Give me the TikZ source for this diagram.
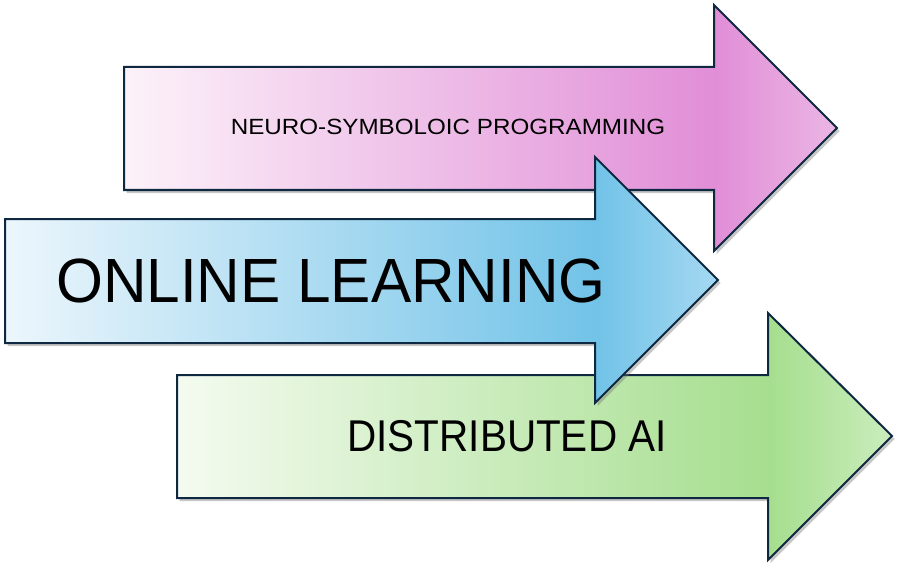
\documentclass[tikz,border=0pt]{standalone}
\usepackage{fontspec}
\setmainfont{Liberation Sans}
\usepackage{graphicx}
\usetikzlibrary{shadows}
\definecolor{edge}{RGB}{14,40,65}
\definecolor{pinkL}{RGB}{252,242,249}
\definecolor{pinkM}{RGB}{225,142,215}
\definecolor{pinkT}{RGB}{235,182,228}
\definecolor{blueL}{RGB}{236,246,252}
\definecolor{blueM}{RGB}{114,195,232}
\definecolor{blueT}{RGB}{165,216,241}
\definecolor{greenL}{RGB}{244,251,240}
\definecolor{greenM}{RGB}{166,222,143}
\definecolor{greenT}{RGB}{202,237,188}
\pgfdeclarehorizontalshading{pinkshade}{100bp}{color(0bp)=(pinkL); color(25bp)=(pinkL); color(66.5bp)=(pinkM); color(75bp)=(pinkT); color(100bp)=(pinkT)}
\pgfdeclarehorizontalshading{blueshade}{100bp}{color(0bp)=(blueL); color(25bp)=(blueL); color(66.5bp)=(blueM); color(75bp)=(blueT); color(100bp)=(blueT)}
\pgfdeclarehorizontalshading{greenshade}{100bp}{color(0bp)=(greenL); color(25bp)=(greenL); color(66.5bp)=(greenM); color(75bp)=(greenT); color(100bp)=(greenT)}
\tikzset{
  bigarrow/.style={draw=edge, line width=2pt, line join=miter,
    drop shadow={shadow xshift=2.5pt, shadow yshift=-3pt, opacity=0.4, fill=black!55}},
  lbl/.style={inner sep=0pt, anchor=center, text=black}
}
\begin{document}
\begin{tikzpicture}[x=1pt,y=-1pt]
\useasboundingbox (0,0) rectangle (904,572);
% pink arrow
\path[bigarrow, shading=pinkshade] (124,67) -- (714,67) -- (714,5) -- (837,128) -- (714,251) -- (714,190) -- (124,190) -- cycle;
% green arrow
\path[bigarrow, shading=greenshade] (177,375) -- (768,375) -- (768,313) -- (892,436) -- (768,560) -- (768,498) -- (177,498) -- cycle;
% blue arrow
\path[bigarrow, shading=blueshade] (5,219) -- (595,219) -- (595,157) -- (718,280) -- (595,403) -- (595,343) -- (5,343) -- cycle;
\node[lbl] (neuro) at (448,127) {\scalebox{1.1}[1]{\fontsize{22}{26}\selectfont NEURO-SYMBOLOIC PROGRAMMING}};
\node[lbl] (online) at (331,281) {\scalebox{0.965}[1]{\fontsize{62.5}{70}\selectfont ONLINE LEARNING}};
\node[lbl] (dist) at (507,436) {\scalebox{0.91}[1]{\fontsize{44.5}{50}\selectfont DISTRIBUTED AI}};
\end{tikzpicture}
\end{document}
